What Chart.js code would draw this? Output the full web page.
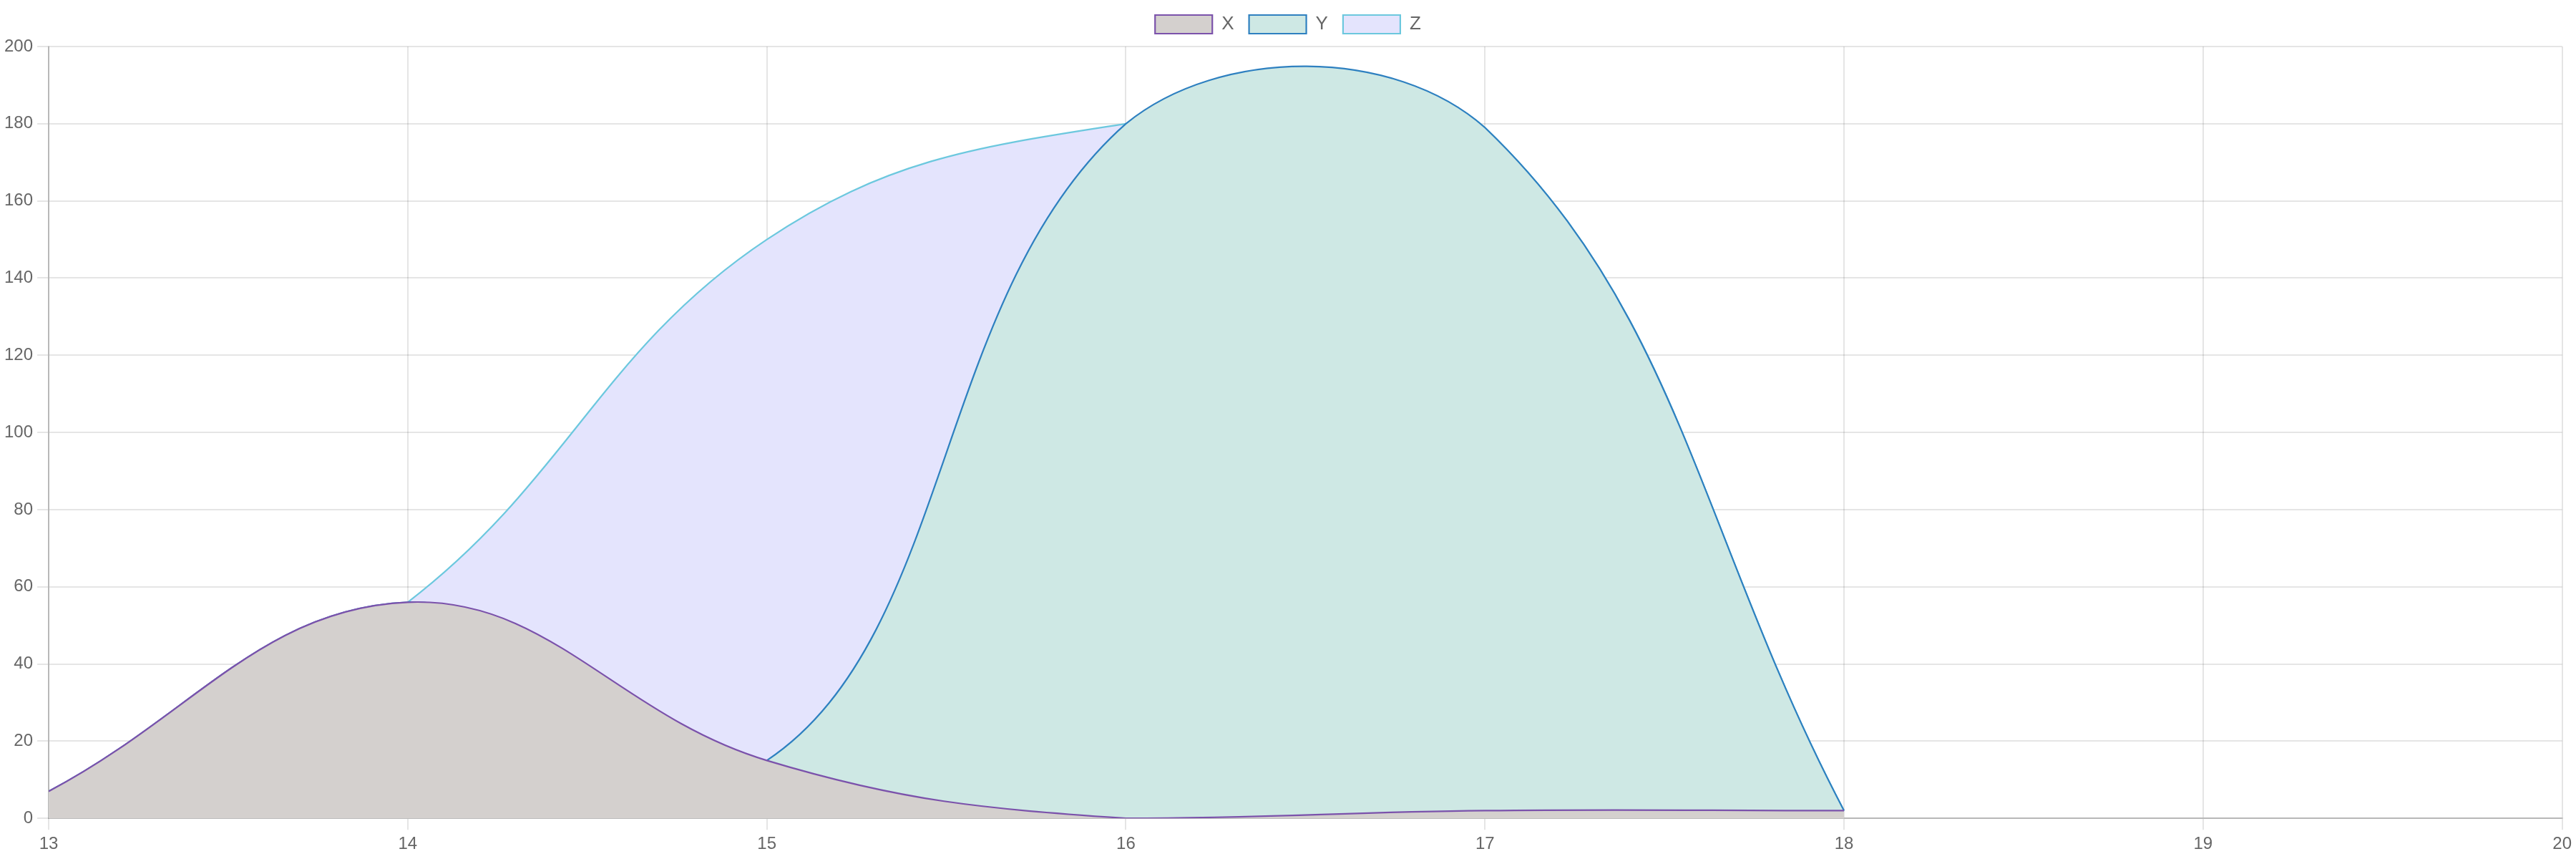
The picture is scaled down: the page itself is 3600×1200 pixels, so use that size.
<!DOCTYPE html>
<html>
<head>
<meta charset="utf-8">
<title>X Y Z areas</title>
<script src="https://cdn.jsdelivr.net/npm/chart.js@4/dist/chart.umd.min.js"></script>
<style>
    html, body { margin: 0; padding: 0; background: #fff; }
    #wrap { width: 3600px; height: 1200px; }
</style>
</head>
<body>
<div id="wrap"><canvas id="areaChart"></canvas></div>
<script>
// shared x positions, one value per position for every series
// (parts of Y and Z sit underneath the series drawn above them)
const xPositions = [13, 14, 15, 16, 17, 18];
const valuesX = [7, 56, 15, 0, 2, 2];
const valuesY = [7, 56, 15, 180, 179, 2];
const valuesZ = [7, 56, 150, 180, 179, 2];

const seriesNames = ["X", "Y", "Z"];

// axis range
const xMin = 13, xMax = 20, xStep = 1;
const yMin = 0, yMax = 200, yStep = 20;

function toPoints(ys) {
    return xPositions.map((x, i) => ({ x: x, y: ys[i] }));
}

// a bit more room under the legend
const legendGap = {
    id: "legendGap",
    beforeInit(chart) {
        const origFit = chart.legend.fit;
        chart.legend.fit = function () {
            origFit.bind(chart.legend)();
            this.height += 8;
        };
    },
};

Chart.defaults.font.family = "'Liberation Sans', Arial, sans-serif";
Chart.defaults.color = "#666";

const ctx = document.getElementById("areaChart").getContext("2d");

new Chart(ctx, {
    type: "line",
    data: {
        datasets: [
            {
                label: seriesNames[0],
                data: toPoints(valuesX),
                borderColor: "#7b52ab",
                backgroundColor: "#d4d0ce",
                borderWidth: 2.2,
                fill: "origin",
                tension: 0.4,
                pointRadius: 0,
            },
            {
                label: seriesNames[1],
                data: toPoints(valuesY),
                borderColor: "#2e80c0",
                backgroundColor: "#cee8e4",
                borderWidth: 2.2,
                fill: "origin",
                tension: 0.4,
                pointRadius: 0,
            },
            {
                label: seriesNames[2],
                data: toPoints(valuesZ),
                borderColor: "#6cc8de",
                backgroundColor: "#e4e4fd",
                borderWidth: 2.2,
                fill: "origin",
                tension: 0.4,
                pointRadius: 0,
            },
        ],
    },
    options: {
        responsive: true,
        maintainAspectRatio: false,
        devicePixelRatio: 1,
        animation: false,
        plugins: {
            legend: {
                position: "top",
                labels: {
                    boxWidth: 80,
                    boxHeight: 26,
                    padding: 21,
                    font: { size: 26 },
                },
            },
            tooltip: { enabled: false },
        },
        scales: {
            x: {
                type: "linear",
                min: xMin,
                max: xMax,
                ticks: { stepSize: xStep, font: { size: 24 }, padding: 6 },
                grid: { color: "rgba(0,0,0,0.1)", lineWidth: 2, tickLength: 16 },
                border: { color: "rgba(0,0,0,0.2)", width: 2 },
            },
            y: {
                min: yMin,
                max: yMax,
                ticks: { stepSize: yStep, font: { size: 24 }, padding: 6 },
                grid: { color: "rgba(0,0,0,0.1)", lineWidth: 2, tickLength: 16 },
                border: { color: "rgba(0,0,0,0.2)", width: 2 },
            },
        },
    },
    plugins: [legendGap],
});
</script>
</body>
</html>
